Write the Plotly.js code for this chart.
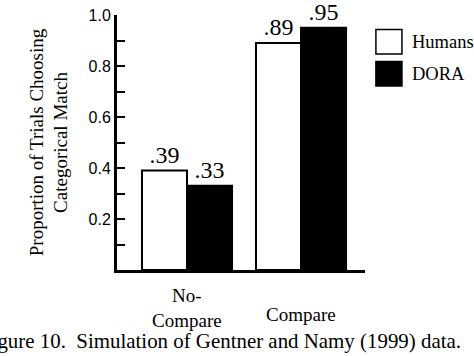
<!DOCTYPE html>
<html>
<head>
<meta charset="utf-8">
<script src="https://cdn.plot.ly/plotly-3.0.1.min.js"></script>
<style>html,body{margin:0;padding:0;background:#fff;}#chart{width:474px;height:356px;}</style>
</head>
<body>
<div id="chart"></div>
<script>
// ---- data ----
var categories = [0, 1];
var categoryLabels = ['No-<br>Compare', 'Compare'];
var seriesNames = ['Humans', 'DORA'];
var humansValues = [0.39, 0.89];
var doraValues = [0.33, 0.95];
var humansLabels = ['.39', '.89'];
var doraLabels = ['.33', '.95'];
var yTickVals = [0.2, 0.4, 0.6, 0.8, 1.0];
var yTickText = ['0.2', '0.4', '0.6', '0.8', '1.0'];
var yTitle = 'Proportion of Trials Choosing<br>Categorical Match';
var caption = 'Figure 10.\u00a0 Simulation of Gentner and Namy (1999) data.';

var serif = 'Liberation Serif, Times New Roman, serif';
var sans = 'Liberation Sans, Arial, sans-serif';

var traces = [
  {
    type: 'bar', name: seriesNames[0], x: categories, y: humansValues,
    text: humansLabels, textposition: 'outside', cliponaxis: false,
    textfont: {family: serif, size: 24, color: '#000'},
    marker: {color: '#fff', line: {color: '#000', width: 2}},
    showlegend: false, hoverinfo: 'skip'
  },
  {
    type: 'bar', name: seriesNames[1], x: categories, y: doraValues,
    text: doraLabels, textposition: 'outside', cliponaxis: false,
    textfont: {family: serif, size: 24, color: '#000'},
    marker: {color: '#000', line: {color: '#000', width: 2}},
    showlegend: false, hoverinfo: 'skip'
  }
];

var catLabelY = [-0.148, -0.176];
var annotations = categories.map(function (c, i) {
  return {x: c, y: catLabelY[i], xref: 'x', yref: 'paper', text: categoryLabels[i],
    showarrow: false, xanchor: 'center', yanchor: 'middle',
    font: {family: serif, size: 19, color: '#000'}};
});
// legend entries
var legendY = [0.895, 0.77];
var fills = ['#fff', '#000'];
var shapes = [];
seriesNames.forEach(function (n, i) {
  shapes.push({type: 'rect', xref: 'paper', yref: 'paper',
    x0: 1.044, x1: 1.149, y0: legendY[i] - 0.048, y1: legendY[i] + 0.048,
    fillcolor: fills[i], line: {color: '#000', width: 1.5}});
  annotations.push({x: 1.18, y: legendY[i], xref: 'paper', yref: 'paper', text: n,
    showarrow: false, xanchor: 'left', yanchor: 'middle',
    font: {family: serif, size: 18.5, color: '#000'}});
});
annotations.push({x: 1.395, y: -0.278, xref: 'paper', yref: 'paper', text: caption,
  showarrow: false, xanchor: 'right', yanchor: 'middle',
  font: {family: serif, size: 20.9, color: '#000'}});

var layout = {
  width: 474, height: 356,
  margin: {l: 117, r: 109, t: 15, b: 86, pad: 0},
  paper_bgcolor: '#fff', plot_bgcolor: '#fff',
  barmode: 'group', bargap: 0.21, bargroupgap: 0,
  showlegend: false,
  xaxis: {
    range: [-0.614, 1.561], tickvals: categories, showticklabels: false,
    showline: true, linecolor: '#000', linewidth: 3, ticks: '',
    showgrid: false, zeroline: false, fixedrange: true
  },
  yaxis: {
    range: [0, 1.0], tickvals: yTickVals, ticktext: yTickText,
    ticks: 'inside', ticklen: 8, tickwidth: 2, tickcolor: '#000',
    minor: {dtick: 0.1, tick0: 0, ticks: 'inside', ticklen: 8, tickwidth: 2, tickcolor: '#000', showgrid: false},
    showline: true, linecolor: '#000', linewidth: 3,
    showgrid: false, zeroline: false, fixedrange: true,
    tickfont: {family: sans, size: 16, color: '#000'},
    title: {text: yTitle, font: {family: serif, size: 19, color: '#000'}, standoff: 16}
  },
  annotations: annotations,
  shapes: shapes
};

Plotly.newPlot('chart', traces, layout, {displayModeBar: false, staticPlot: true});
</script>
</body>
</html>
